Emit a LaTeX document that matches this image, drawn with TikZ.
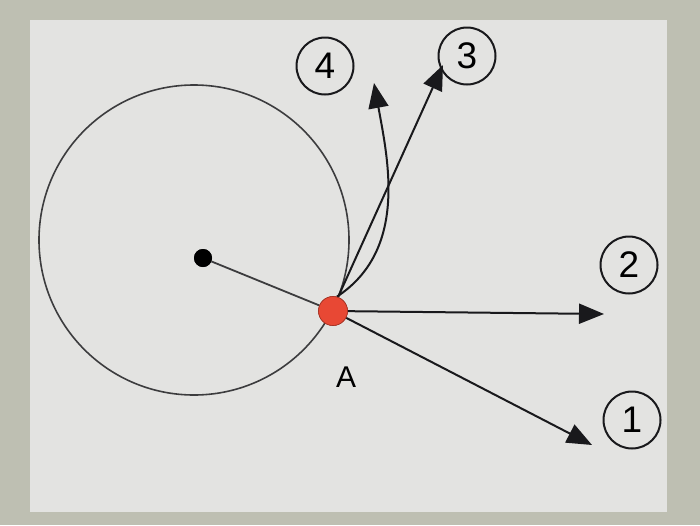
\documentclass[tikz,border=0pt]{standalone}
\usepackage{fontspec}
\setmainfont{Liberation Sans}
\usetikzlibrary{arrows.meta}
\definecolor{outerbg}{RGB}{190,191,178}
\definecolor{innerbg}{RGB}{227,227,225}
\definecolor{reddot}{RGB}{232,72,52}
\definecolor{ink}{RGB}{25,25,28}
\begin{document}
\begin{tikzpicture}[x=1pt,y=-1pt,
  conn/.style={draw=ink,line width=2pt,-{Triangle[length=25pt,width=20pt]}},
  plain/.style={draw=ink!85,line width=1.6pt},
  numlabel/.style={circle,draw=ink,line width=2pt,minimum size=57pt,inner sep=0pt,font=\fontsize{37}{37}\selectfont},
  pointlabel/.style={inner sep=0pt,font=\fontsize{30}{30}\selectfont}
]
\useasboundingbox (0,0) rectangle (700,525);
\fill[outerbg] (0,0) rectangle (700,525);
\fill[innerbg] (30,20) rectangle (667,512);

% circle
\draw[plain] (194,240) circle[radius=155];

% named points
\node[circle,fill=black,minimum size=18pt,inner sep=0pt] (O) at (203,258) {};
\node[circle,fill=reddot,draw=reddot!70!black,line width=0.6pt,minimum size=29pt,inner sep=0pt] (A) at (333,311) {};
\node[pointlabel] (Alab) at (346,377) {A};

\coordinate (t1) at (592,445);
\coordinate (t2) at (604,314);
\coordinate (t3) at (443,65);
\coordinate (t4) at (374,83);

\node[numlabel] (n1) at (632,420) {1};
\node[numlabel] (n2) at (629,265) {2};
\node[numlabel] (n3) at (467,56) {3};
\node[numlabel] (n4) at (325,66) {4};

% connectors
\draw[plain,line width=1.8pt] (O) -- (A);
\draw[conn] (A) -- (t1);
\draw[conn] (A) -- (t2);
\draw[conn] (A.70) -- (t3);
\draw[conn] (A.75) .. controls (408,250) and (388,160) .. (t4);

% redraw dots on top
\fill[black] (O) circle[radius=9];
\fill[reddot] (A) circle[radius=14.5];
\draw[reddot!70!black,line width=0.6pt] (A) circle[radius=14.5];
\end{tikzpicture}
\end{document}
